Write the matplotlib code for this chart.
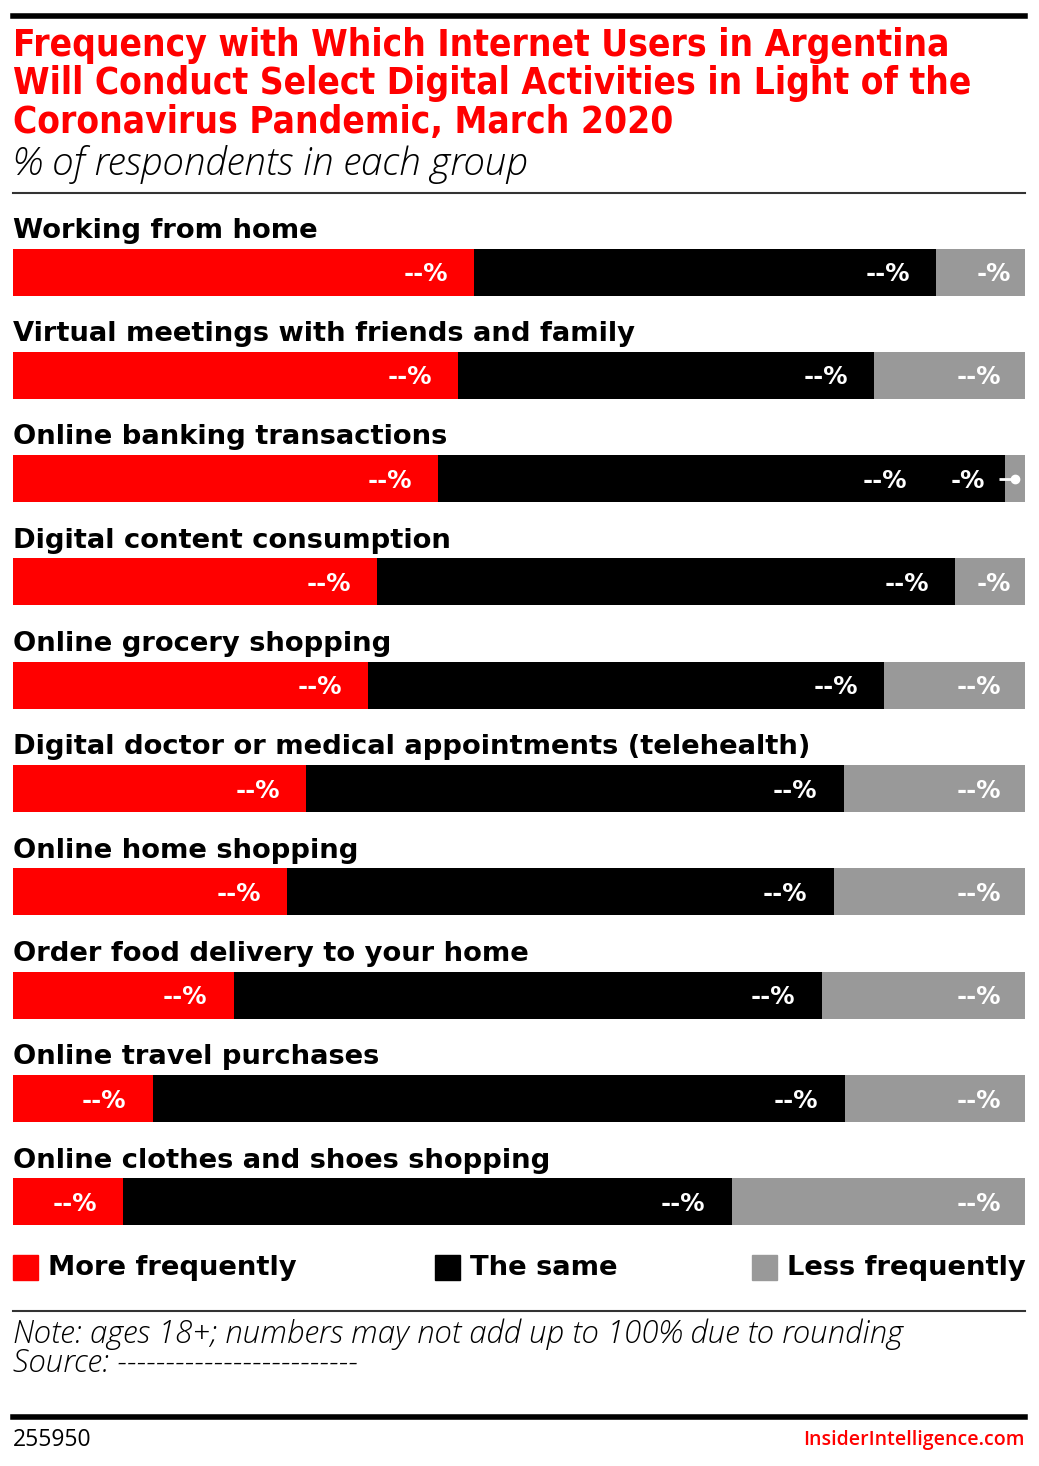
import matplotlib
matplotlib.use("Agg")
import matplotlib.pyplot as plt
from matplotlib.patches import Rectangle
import numpy as np

categories = [
    "Working from home",
    "Virtual meetings with friends and family",
    "Online banking transactions",
    "Digital content consumption",
    "Online grocery shopping",
    "Digital doctor or medical appointments (telehealth)",
    "Online home shopping",
    "Order food delivery to your home",
    "Online travel purchases",
    "Online clothes and shoes shopping",
]
more_freq = [45.6, 44.0, 42.0, 36.0, 35.1, 29.0, 27.1, 21.8, 13.8, 10.9]
the_same = [45.6, 41.1, 56.0, 57.1, 51.0, 53.1, 54.0, 58.1, 68.4, 60.1]
less_freq = [8.8, 14.9, 2.0, 6.9, 13.9, 17.9, 18.9, 20.1, 17.8, 29.0]
more_labels = ["--%"] * 10
same_labels = ["--%"] * 10
less_labels = ["-%", "--%", "-%", "-%", "--%", "--%", "--%", "--%", "--%", "--%"]
series_names = ["More frequently", "The same", "Less frequently"]
colors = ["#ff0000", "#000000", "#999999"]

W, H = 1039, 1466
fig = plt.figure(figsize=(W / 100, H / 100), dpi=100)

def fx(px):
    return px / W

def fy(py):
    return 1 - py / H

BOLD = "DejaVu Sans"

# Top thick rule
fig.add_artist(plt.Line2D([fx(13), fx(1025)], [fy(16), fy(16)], color="black", lw=4.0))

title_lines = [
    "Frequency with Which Internet Users in Argentina",
    "Will Conduct Select Digital Activities in Light of the",
    "Coronavirus Pandemic, March 2020",
]
for i, t in enumerate(title_lines):
    fig.text(fx(13), fy(45 + 39 * i), t, color="#ff0000", fontsize=26.6,
             fontweight="bold", family="DejaVu Sans", fontstretch="condensed",
             va="center", ha="left")
fig.text(fx(13), fy(165), "% of respondents in each group", fontsize=27.8,
         style="italic", family="Open Sans", fontweight="light", va="center", ha="left")
fig.add_artist(plt.Line2D([fx(13), fx(1025)], [fy(193), fy(193)], color="#333333", lw=1.5))

# Bars axes
ax_top, ax_bot = 200, 1240
spacing = 103.33
c0 = 272
ax = fig.add_axes([fx(13), fy(ax_bot), fx(1025) - fx(13), (ax_bot - ax_top) / H])
ax.set_xlim(0, 100)
ax.set_ylim((ax_bot - c0) / spacing, (ax_top - c0) / spacing)
ax.axis("off")

y = np.arange(len(categories))
bh = 47 / spacing
more = np.array(more_freq)
same = np.array(the_same)
less = np.array(less_freq)
total = more + same + less
ax.barh(y, more, height=bh, color=colors[0], edgecolor="none")
ax.barh(y, same, left=more, height=bh, color=colors[1], edgecolor="none")
ax.barh(y, less, left=more + same, height=bh, color=colors[2], edgecolor="none")

lab_kw = dict(color="white", fontsize=17.5, fontweight="bold", family="DejaVu Sans",
              va="center", ha="right")
dy = 0.02
for i in range(len(categories)):
    ax.text(0, i - 0.40, categories[i], fontsize=19.7, fontweight="bold",
            family=BOLD, va="center", ha="left", color="black")
    ax.text(more[i] - 2.6, i + dy, more_labels[i], **lab_kw)
    end = total[i]
    if less[i] < 4:
        # small segment: labels shifted left, leader line to the segment
        ax.text(more[i] + same[i] - 9.6, i + dy, same_labels[i], **lab_kw)
        ax.text(end - less[i] - 2.0, i + dy, less_labels[i], **lab_kw)
        x0 = end - less[i] - 0.6
        x1 = end - less[i] / 2
        ax.plot([x0, x1], [i, i], color="white", lw=2, solid_capstyle="butt")
        ax.plot([x1], [i], "o", color="white", ms=6)
    else:
        ax.text(more[i] + same[i] - 2.6, i + dy, same_labels[i], **lab_kw)
        if less[i] < 10:
            ax.text(end - 1.4, i + dy, less_labels[i], **lab_kw)
        else:
            ax.text(end - 2.4, i + dy, less_labels[i], **lab_kw)

# Legend
leg_y = 1268
leg = [(13, 48), (435, 470), (752, 787)]
for (sx, tx), name, col in zip(leg, series_names, colors):
    fig.add_artist(Rectangle((fx(sx), fy(leg_y + 12)), 25 / W, 25 / H,
                             color=col, transform=fig.transFigure))
    fig.text(fx(tx), fy(leg_y), name, fontsize=19.7, fontweight="bold",
             family=BOLD, va="center", ha="left")

fig.add_artist(plt.Line2D([fx(13), fx(1025)], [fy(1311), fy(1311)], color="#333333", lw=1.5))
fig.text(fx(13), fy(1334), "Note: ages 18+; numbers may not add up to 100% due to rounding",
         fontsize=22.5, style="italic", family="Open Sans", fontweight="light",
         va="center", ha="left")
fig.text(fx(13), fy(1364), "Source: -------------------------",
         fontsize=22.5, style="italic", family="Open Sans", fontweight="light",
         va="center", ha="left")
fig.add_artist(plt.Line2D([fx(13), fx(1025)], [fy(1417), fy(1417)], color="black", lw=4.0))
fig.text(fx(13), fy(1440), "255950", fontsize=16.5, family="Open Sans", va="center", ha="left")
fig.text(fx(1025), fy(1440), "InsiderIntelligence.com", fontsize=14, family="Open Sans",
         fontweight="semibold", color="#ff0000", va="center", ha="right")

fig.savefig("out.png", dpi=100)
